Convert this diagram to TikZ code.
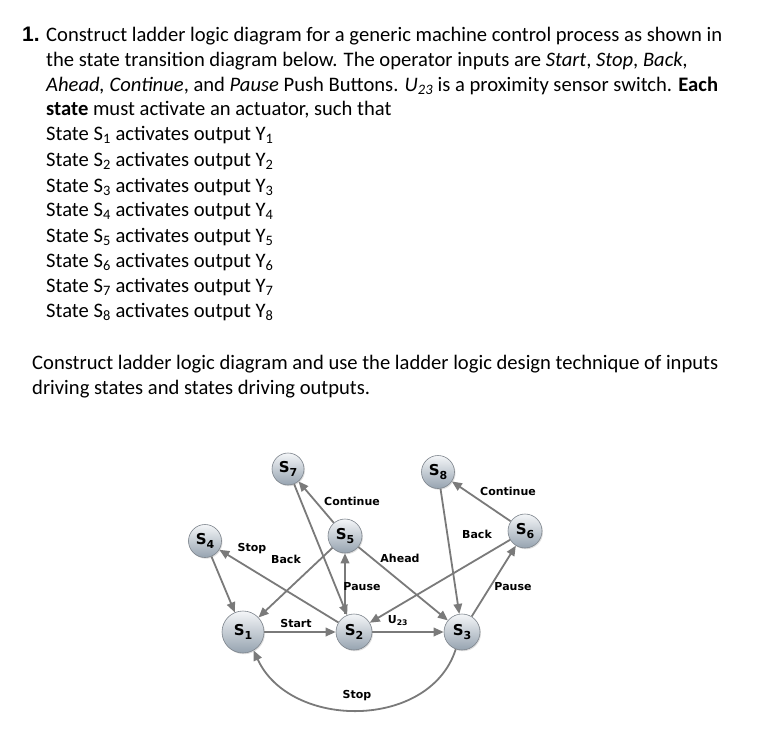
\documentclass[tikz,border=0pt]{standalone}
\usepackage{fontspec}
\setmainfont{Carlito}
\newfontfamily\labfont{DejaVu Sans}
\newfontfamily\numfont{Liberation Sans}
\usetikzlibrary{arrows.meta,shadows,calc}
\pgfdeclarelayer{bg}
\pgfsetlayers{bg,main}
\definecolor{edgegray}{RGB}{122,122,122}
\definecolor{nodetop}{RGB}{244,246,248}
\definecolor{nodebot}{RGB}{150,163,176}
\definecolor{nodeborder}{RGB}{125,132,140}
\newcommand{\stsub}[1]{\raisebox{-3.5pt}{\fontsize{11}{11}\selectfont #1}}
\begin{document}
\begin{tikzpicture}[x=1pt,y=-1pt,
  txt/.style={inner sep=0pt, anchor=base west, font=\fontsize{20.6}{24}\selectfont},
  state/.style={circle, inner sep=0pt, draw=nodeborder, line width=0.6pt,
    top color=nodetop, bottom color=nodebot,
    drop shadow={opacity=0.25, shadow xshift=1pt, shadow yshift=-1.2pt},
    font=\labfont\bfseries\fontsize{15}{15}\selectfont},
  conn/.style={draw=edgegray, line width=1.8pt, -{Triangle[length=10pt,width=8.5pt]}},
  lab/.style={inner sep=0pt, font=\labfont\bfseries\fontsize{11}{11}\selectfont}]
\useasboundingbox (0,0) rectangle (765,744);

% ---- text ----
\node[txt, font=\numfont\bfseries\fontsize{21}{24}\selectfont] (num) at (22,41.5) {1.};
\node[txt] (l1) at (46,41.5) {Construct ladder logic diagram for a generic machine control process as shown in};
\node[txt] (l2) at (46,66.5) {the state transition diagram below. The operator inputs are \textit{Start}, \textit{Stop}, \textit{Back,}};
\node[txt] (l3) at (46,91) {\textit{Ahead, Continue}, and \textit{Pause} Push Buttons. \textit{U\textsubscript{23}} is a proximity sensor switch. \textbf{Each}};
\node[txt] (l4) at (46,115.5) {\textbf{state} must activate an actuator, such that};
\node[txt] (s1t) at (46,140.7) {State S\textsubscript{1} activates output Y\textsubscript{1}};
\node[txt] (s2t) at (46,166.7) {State S\textsubscript{2} activates output Y\textsubscript{2}};
\node[txt] (s3t) at (46,192.3) {State S\textsubscript{3} activates output Y\textsubscript{3}};
\node[txt] (s4t) at (46,216.7) {State S\textsubscript{4} activates output Y\textsubscript{4}};
\node[txt] (s5t) at (46,242.3) {State S\textsubscript{5} activates output Y\textsubscript{5}};
\node[txt] (s6t) at (46,267.3) {State S\textsubscript{6} activates output Y\textsubscript{6}};
\node[txt] (s7t) at (46,292.3) {State S\textsubscript{7} activates output Y\textsubscript{7}};
\node[txt] (s8t) at (46,317.3) {State S\textsubscript{8} activates output Y\textsubscript{8}};
\node[txt] (c1) at (32,369) {Construct ladder logic diagram and use the ladder logic design technique of inputs};
\node[txt] (c2) at (32,394) {driving states and states driving outputs.};

% ---- states ----
\node[state, minimum size=32pt] (S7) at (288,469) {S\stsub{7}};
\node[state, minimum size=33pt] (S8) at (438,472) {S\stsub{8}};
\node[state, minimum size=33pt] (S4) at (205,541) {S\stsub{4}};
\node[state, minimum size=34pt] (S5) at (345,536) {S\stsub{5}};
\node[state, minimum size=34pt] (S6) at (525,531) {S\stsub{6}};
\node[state, minimum size=42pt] (S1) at (243,632) {S\stsub{1}};
\node[state, minimum size=36pt] (S2) at (354,632) {S\stsub{2}};
\node[state, minimum size=36pt] (S3) at (462,632) {S\stsub{3}};

% ---- connectors ----
\begin{pgfonlayer}{bg}
\fill[white] (0,0) rectangle (765,744);
\draw[conn] (S4) -- (S1);
\draw[conn] (S2) -- (S4);
\draw[conn] (S5) -- (S1);
\draw[conn] (S7) -- (S2);
\draw[conn] (S5) -- (S7);
\draw[conn] (S2.north -| S5) -- (S5);
\draw[conn] (S5) -- (S3);
\draw[conn] (S8) -- (S3);
\draw[conn] (S6) -- (S8);
\draw[conn] (S6) -- (S2);
\draw[conn] (S3) -- (S6);
\draw[conn] (S1) -- (S2);
\draw[conn] (S2) -- (S3);
\draw[conn] (S3.250) .. controls (430,730) and (290,730) .. (S1.-60);
\end{pgfonlayer}

% ---- labels ----
\node[lab] (Lcont1) at (352,501) {Continue};
\node[lab] (Lstop1) at (252,549) {Stop};
\node[lab] (Lback1) at (286,559) {Back};
\node[lab] (Lahead) at (400,558) {Ahead};
\node[lab] (Lpause1) at (362,587) {Pause};
\node[lab] (Lcont2) at (508,491) {Continue};
\node[lab] (Lback2) at (477,534) {Back};
\node[lab] (Lpause2) at (513,587) {Pause};
\node[lab] (Lstart) at (296,623) {Start};
\node[lab] (Lu) at (398,621) {U\textsubscript{23}};
\node[lab] (Lstop2) at (357,696) {Stop};
\end{tikzpicture}
\end{document}
